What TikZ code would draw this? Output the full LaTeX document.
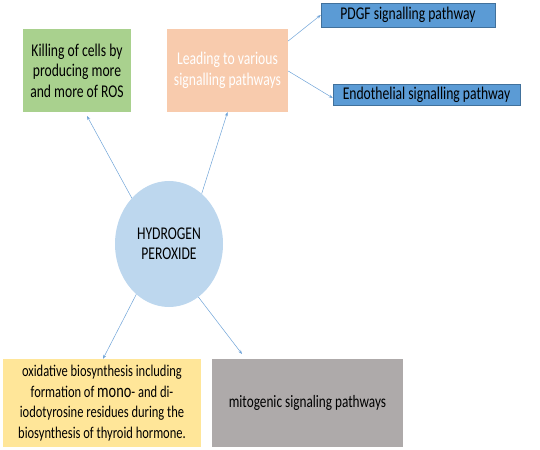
\documentclass[tikz,border=0pt]{standalone}
\usepackage{fontspec}
\setmainfont{Carlito}[FakeStretch=0.76]
\usetikzlibrary{arrows.meta, positioning, shapes.geometric}
\definecolor{boxGreen}{HTML}{A9D18E}
\definecolor{boxOrange}{HTML}{F8CBAD}
\definecolor{boxBlue}{HTML}{5B9BD5}
\definecolor{edgeBlue}{HTML}{41719C}
\definecolor{circBlue}{HTML}{BDD7EE}
\definecolor{boxYellow}{HTML}{FFE699}
\definecolor{boxGray}{HTML}{AEAAAA}
\definecolor{lineBlue}{HTML}{6FA3D8}

\begin{document}
\begin{tikzpicture}[x=1bp, y=-1bp, >={Stealth[length=4pt, width=3pt]}]
    \tikzset{
        card/.style={minimum height=83bp, inner sep=2pt, align=center, font=\fontsize{18}{20.5}\selectfont},
        pathbox/.style={fill=boxBlue, draw=edgeBlue, inner sep=1pt, font=\fontsize{18}{18}\selectfont},
        link/.style={->, lineBlue, line width=0.5pt}
    }
    \useasboundingbox (0,0) rectangle (540,450);

    \node[card, fill=boxGreen, minimum width=108bp] (kill) at (77,70.5)
        {Killing of cells by\\producing more\\and more of ROS};
    \node[card, fill=boxOrange, minimum width=121bp, text=white] (lead) at (227.5,70.5)
        {Leading to various\\signalling pathways};
    \node[pathbox, minimum width=174bp, minimum height=24bp] (pdgf) at (408,15)
        {PDGF signalling pathway};
    \node[pathbox, minimum width=187bp, minimum height=21bp] (endo) at (426.5,94.5)
        {Endothelial signalling pathway};

    \node[ellipse, fill=circBlue, minimum width=108bp, minimum height=126bp, align=center, font=\fontsize{18}{20}\selectfont] (hp) at (169,244)
        {HYDROGEN\\PEROXIDE};

    \node[card, fill=boxYellow, minimum width=198bp, minimum height=88bp, font=\fontsize{16.5}{20.5}\selectfont] (oxi) at (102,403)
        {oxidative biosynthesis including\\formation of {\fontsize{19}{20.5}\selectfont mono}- and di-\\iodotyrosine residues during the\\biosynthesis of thyroid hormone.};
    \node[card, fill=boxGray, minimum width=191bp, minimum height=88bp, font=\fontsize{17.5}{20.5}\selectfont] (mito) at (307.5,403)
        {mitogenic signaling pathways};

    \coordinate (killTip) at (87,116);
    \coordinate (mitoTip) at (242,354);

    \draw[link] (hp.129) -- (killTip);
    \draw[link] (hp.57) -- (lead.south);
    \draw[link] (lead.east |- 0,41) -- (pdgf.west);
    \draw[link] (lead.east |- 0,71) -- (endo.west |- 0,98);
    \draw[link] (hp.237) -- (oxi.north -| 103,0);
    \draw[link] (hp.-61) -- (mitoTip);
\end{tikzpicture}
\end{document}
